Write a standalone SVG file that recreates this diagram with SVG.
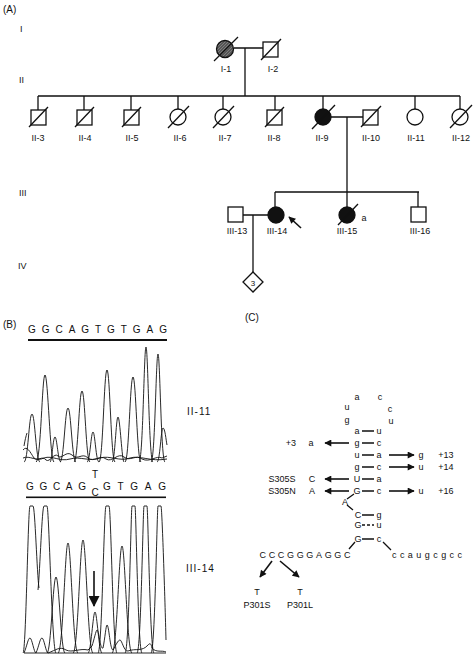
<svg xmlns="http://www.w3.org/2000/svg" width="474" height="658" viewBox="0 0 474 658">
<style>
text{font-family:"Liberation Sans",Arial,sans-serif;fill:#111}
.lbl{font-size:9px;text-anchor:middle}
.gen{font-size:9px}
.pnl{font-size:10px}
.big{font-size:10px;letter-spacing:1px}
.seq{font-size:10px}
.rna{font-size:9px;text-anchor:middle}
.sym{fill:#fff;stroke:#111;stroke-width:1.3}
.aff{fill:#111;stroke:#111;stroke-width:1.3}
.ln{stroke:#111;stroke-width:1.3;fill:none}
.tr{fill:none;stroke:#111;stroke-width:0.9}
.ar{stroke:#111;stroke-width:1.6;fill:none}
</style>
<defs>
<marker id="ah" viewBox="0 0 10 10" refX="9" refY="5" markerWidth="8" markerHeight="6" markerUnits="userSpaceOnUse" orient="auto"><path d="M0,0L10,5L0,10z" fill="#111"/></marker>
<marker id="ahs" viewBox="0 0 10 10" refX="9" refY="5" markerWidth="9" markerHeight="7" markerUnits="userSpaceOnUse" orient="auto"><path d="M0,0L10,5L0,10z" fill="#111"/></marker>
<marker id="ahb" viewBox="0 0 10 10" refX="9" refY="5" markerWidth="9" markerHeight="7" markerUnits="userSpaceOnUse" orient="auto"><path d="M0,0L10,5L0,10z" fill="#111"/></marker>
<marker id="ahd" viewBox="0 0 10 10" refX="9" refY="5" markerWidth="13" markerHeight="11" markerUnits="userSpaceOnUse" orient="auto"><path d="M0,0L10,5L0,10z" fill="#111"/></marker>
<pattern id="hatch" width="3" height="3" patternUnits="userSpaceOnUse"><rect width="3" height="3" fill="#555"/><path d="M0,3L3,0" stroke="#888" stroke-width="0.8"/></pattern>
</defs>

<!-- Panel labels -->
<text class="pnl" x="3" y="13">(A)</text>
<text class="gen" x="20" y="32">I</text>
<text class="gen" x="19" y="83">II</text>
<text class="gen" x="19" y="196">III</text>
<text class="gen" x="18" y="269">IV</text>
<text class="pnl" x="3" y="328">(B)</text>
<text class="pnl" x="245" y="321">(C)</text>

<!-- Pedigree connectors -->
<g id="connectors">
<path class="ln" d="M234,48H263M245,48V96M38,96H460"/>
<path class="ln" d="M38,96V110M84,96V110M131,96V110M178,96V109M223,96V109M275,96V110M323,96V109M415,96V109M460,96V109"/>
<path class="ln" d="M331,117H363M347,117V207M275,192H419M275,192V207M418,192V207"/>
<path class="ln" d="M243,215H268M253,215V272"/>
<path class="ar" d="M301,228L289,217" marker-end="url(#ahs)"/>
</g>

<!-- Generation I -->
<g id="I-1"><circle cx="225" cy="49" r="8.5" fill="url(#hatch)" stroke="#111" stroke-width="1.3"/><path class="ln" d="M214,61L238,37"/><text class="lbl" x="226" y="72">I-1</text></g>
<g id="I-2"><rect class="sym" x="263" y="42" width="15" height="15"/><path class="ln" d="M261,60L281,39"/><text class="lbl" x="273" y="72">I-2</text></g>

<!-- Generation II -->
<g id="II-3"><rect class="sym" x="31" y="110" width="15" height="15"/><path class="ln" d="M29,127L48,107"/><text class="lbl" x="38" y="141">II-3</text></g>
<g id="II-4"><rect class="sym" x="77" y="110" width="15" height="15"/><path class="ln" d="M75,127L94,107"/><text class="lbl" x="85" y="141">II-4</text></g>
<g id="II-5"><rect class="sym" x="124" y="110" width="15" height="15"/><path class="ln" d="M122,127L141,107"/><text class="lbl" x="132" y="141">II-5</text></g>
<g id="II-6"><circle class="sym" cx="178" cy="117" r="8"/><path class="ln" d="M168,128L189,106"/><text class="lbl" x="180" y="141">II-6</text></g>
<g id="II-7"><circle class="sym" cx="223" cy="117" r="8"/><path class="ln" d="M213,128L234,106"/><text class="lbl" x="225" y="141">II-7</text></g>
<g id="II-8"><rect class="sym" x="267" y="110" width="15" height="15"/><path class="ln" d="M265,127L284,107"/><text class="lbl" x="274" y="141">II-8</text></g>
<g id="II-9"><circle class="aff" cx="323" cy="117" r="8"/><path class="ln" d="M312,129L335,105"/><text class="lbl" x="322" y="141">II-9</text></g>
<g id="II-10"><rect class="sym" x="363" y="110" width="15" height="15"/><path class="ln" d="M361,127L381,106"/><text class="lbl" x="371" y="141">II-10</text></g>
<g id="II-11"><circle class="sym" cx="415" cy="117" r="8"/><text class="lbl" x="416" y="141">II-11</text></g>
<g id="II-12"><circle class="sym" cx="460" cy="117" r="8"/><path class="ln" d="M450,128L472,105"/><text class="lbl" x="461" y="141">II-12</text></g>

<!-- Generation III -->
<g id="III-13"><rect class="sym" x="228" y="207" width="15" height="15"/><text class="lbl" x="237" y="234">III-13</text></g>
<g id="III-14"><circle class="aff" cx="276" cy="215" r="8"/><text class="lbl" x="277" y="234">III-14</text></g>
<g id="III-15"><circle class="aff" cx="347" cy="215" r="8"/><path class="ln" d="M338,225L358,204"/><text class="lbl" x="347" y="234">III-15</text><text class="lbl" x="364" y="221">a</text></g>
<g id="III-16"><rect class="sym" x="411" y="207" width="15" height="15"/><text class="lbl" x="420" y="234">III-16</text></g>

<!-- Generation IV -->
<g id="IV-1"><path class="sym" d="M253,272L263,282L253,292L243,282Z"/><text class="lbl" x="253" y="285.5" style="font-size:8px">3</text></g>

<!-- Panel B -->
<g id="seq1">
<text class="seq" x="28" y="333" textLength="139" lengthAdjust="spacing">GGCAGTGTGAG</text>
<rect x="28" y="339" width="139" height="2" fill="#111"/>
</g>
<g id="chrom1">
<path class="tr" d="M24,446 C25,440 26,436 27,433"/>
<path class="tr" d="M24,462 C28,462 29,414 32,414 C35,414 36,462 40,462"/>
<path class="tr" d="M36,462 C41,462 42,375 45,375 C48,375 50,462 54,462"/>
<path class="tr" d="M50,462 C52,462 53,437 55,437 C57,437 58,462 61,462"/>
<path class="tr" d="M60,462 C64,462 65,408 68,408 C71,408 72,462 76,462"/>
<path class="tr" d="M74,462 C78,462 79,391 82,391 C85,391 86,462 90,462"/>
<path class="tr" d="M87,462 C90,462 91,432 93,432 C95,432 96,462 99,462"/>
<path class="tr" d="M99,462 C103,462 104,370 107,370 C110,370 111,462 115,462"/>
<path class="tr" d="M112,462 C115,462 116,417 118,417 C120,417 122,462 124,462"/>
<path class="tr" d="M125,462 C129,462 130,377 133,377 C136,377 137,462 141,462"/>
<path class="tr" d="M139,462 C143,462 144,347 146,347 C148,347 149,462 153,462"/>
<path class="tr" d="M151,462 C155,462 156,354 158,354 C160,354 161,462 165,462"/>
<path class="tr" d="M157,462 C160,462 161,428 163,428 C165,428 166,440 167,445"/>
<path class="tr" d="M23,450 C27,445 30,452 34,458 C38,462 42,455 46,460 C50,463 54,452 58,456 C62,460 66,450 72,455 C78,461 82,452 88,458 C94,463 100,454 106,459 C112,463 118,452 124,457 C130,462 136,454 142,459 C150,463 156,455 162,458 L167,456"/>
<path class="tr" d="M23,458 C30,455 36,462 44,458 C52,455 60,462 70,459 C80,456 90,462 100,458 C110,455 120,462 130,458 C140,455 150,462 167,459"/>
</g>
<text class="big" x="187" y="415">II-11</text>

<g id="seq2">
<text class="seq" x="26" y="490" textLength="60" lengthAdjust="spacing">GGCAG</text>
<text class="seq" x="95" y="478" text-anchor="middle">T</text>
<text class="seq" x="95" y="496" text-anchor="middle">C</text>
<text class="seq" x="103" y="490" textLength="63" lengthAdjust="spacing">GTGAG</text>
<rect x="26" y="496.5" width="140" height="1.6" fill="#111"/>
</g>
<g id="chrom2">
<path class="tr" d="M23,653 C26,653 28,506 30,506 L33,506 C35,506 37,575 39,588"/>
<path class="tr" d="M38,590 C40,570 42,506 44,506 L47,506 C49,506 52,653 56,653"/>
<path class="tr" d="M47,653 C51,653 53,577 56,577 C59,577 61,653 65,653"/>
<path class="tr" d="M58,653 C63,653 65,543 68,543 C71,543 73,653 78,653"/>
<path class="tr" d="M73,653 C78,653 80,540 83,540 C86,540 88,653 93,653"/>
<path class="tr" d="M88,653 C91,653 93,612 95,612 C97,612 99,653 102,653"/>
<path class="tr" d="M98,653 C102,653 104,506 106,506 L109,506 C111,506 113,653 117,653"/>
<path class="tr" d="M112,653 C117,653 119,546 122,546 C125,546 127,653 132,653"/>
<path class="tr" d="M125,653 C129,653 131,506 132,506 L135,506 C136,506 138,653 142,653"/>
<path class="tr" d="M137,653 C141,653 143,506 144,506 L147,506 C148,506 150,653 154,653"/>
<path class="tr" d="M151,653 C155,653 157,506 158,506 L161,506 C162,506 165,600 166,640"/>
<path class="tr" d="M24,653 C27,646 28,638 30,638 C32,638 34,653 36,653 C39,646 40,638 42,638 C44,638 46,653 48,653 C56,650 60,646 66,650 C72,653 80,648 88,650 L92,646 C94,640 96,630 97,630 C99,630 100,650 103,648 C105,638 106,625 107,625 C109,625 110,650 113,650 C116,645 118,640 120,640 C122,640 124,652 128,651 C136,648 142,652 148,645 C150,643 151,643 152,648 C156,653 162,650 166,652"/>
<path class="tr" d="M24,653H166"/>
</g>
<path class="ar" d="M94,571V606" marker-end="url(#ahd)"/>
<text class="big" x="186" y="572">III-14</text>

<!-- Panel C -->
<g id="loop">
<text class="rna" x="357" y="400">a</text>
<text class="rna" x="380" y="400">c</text>
<text class="rna" x="347" y="410">u</text>
<text class="rna" x="390" y="412">c</text>
<text class="rna" x="347" y="423">g</text>
<text class="rna" x="391" y="424">u</text>
</g>
<g id="stem">
<text class="rna" x="357" y="434">a</text><text class="rna" x="379" y="434">u</text>
<text class="rna" x="357" y="446">g</text><text class="rna" x="379" y="446">c</text>
<text class="rna" x="357" y="458">u</text><text class="rna" x="379" y="458">a</text>
<text class="rna" x="357" y="470">g</text><text class="rna" x="379" y="470">c</text>
<text class="rna" x="357" y="482">U</text><text class="rna" x="379" y="482">a</text>
<text class="rna" x="357" y="494">G</text><text class="rna" x="379" y="494">c</text>
<text class="rna" x="345" y="505">A</text>
<text class="rna" x="358" y="518">C</text><text class="rna" x="379" y="518">g</text>
<text class="rna" x="358" y="528">G</text><text class="rna" x="379" y="528">u</text>
<text class="rna" x="358" y="542">G</text><text class="rna" x="379" y="542">c</text>
<text class="rna" x="305" y="558" textLength="91" lengthAdjust="spacing" text-anchor="middle">CCCGGGAGGC</text>
<text class="rna" x="427" y="558" textLength="70" lengthAdjust="spacing" text-anchor="middle">ccaugcgcc</text>
</g>
<g id="stem-bonds">
<path class="ln" d="M362,431H374M362,443H374M362,455H374M362,467H374M362,479H374M362,491H374M362,515H374M362,539H374"/>
<path class="ln" d="M362,525H374" stroke-dasharray="3,2"/>
<path class="ln" d="M347,499L354,494M347,505L353,510M355,542L349,549M383,542L391,550"/>
</g>
<g id="mutations">
<path class="ar" d="M349,443H325" marker-end="url(#ahs)"/>
<text class="rna" x="311" y="446">a</text>
<text class="rna" x="291" y="446">+3</text>
<path class="ar" d="M389,455H414" marker-end="url(#ahb)"/>
<text class="rna" x="421" y="458">g</text>
<text class="rna" x="446" y="458">+13</text>
<path class="ar" d="M389,467H414" marker-end="url(#ahb)"/>
<text class="rna" x="421" y="470">u</text>
<text class="rna" x="446" y="470">+14</text>
<path class="ar" d="M349,479H325" marker-end="url(#ahs)"/>
<text class="rna" x="312" y="482">C</text>
<text class="rna" x="282" y="482">S305S</text>
<path class="ar" d="M349,491H325" marker-end="url(#ahs)"/>
<text class="rna" x="312" y="494">A</text>
<text class="rna" x="282" y="494">S305N</text>
<path class="ar" d="M389,491H414" marker-end="url(#ahb)"/>
<text class="rna" x="421" y="494">u</text>
<text class="rna" x="446" y="494">+16</text>
<path class="ar" d="M272,561L260,577" marker-end="url(#ahs)"/>
<path class="ar" d="M280,561L299,577" marker-end="url(#ahs)"/>
<text class="rna" x="257" y="595">T</text>
<text class="rna" x="300" y="595">T</text>
<text class="rna" x="257" y="608">P301S</text>
<text class="rna" x="300" y="608">P301L</text>
</g>
</svg>
